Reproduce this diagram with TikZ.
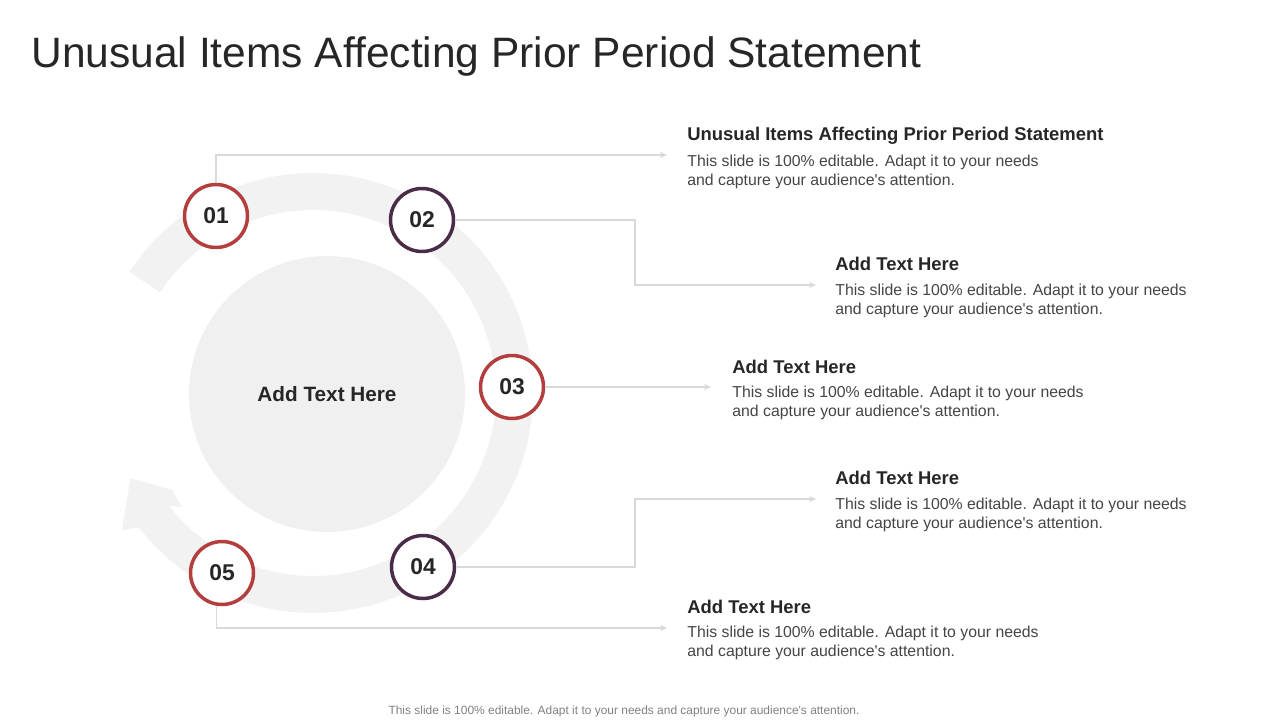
\documentclass[tikz,border=0pt]{standalone}
\usepackage{fontspec}
\setmainfont{Liberation Sans}
\usetikzlibrary{arrows.meta}
\definecolor{ringgray}{HTML}{F2F2F2}
\definecolor{discgray}{HTML}{F0F0F0}
\definecolor{numred}{HTML}{B43E3E}
\definecolor{numplum}{HTML}{4A2C48}
\definecolor{linegray}{HTML}{D9D9D9}
\definecolor{headtext}{HTML}{262626}
\definecolor{bodytext}{HTML}{454545}
\definecolor{foottext}{HTML}{808080}
\tikzset{
numring/.style={circle, draw=#1, line width=0.07cm, fill=white, minimum size=1.26cm, inner sep=0pt,
  font=\fontsize{13}{15}\selectfont\bfseries, text=headtext},
link/.style={draw=linegray, line width=0.6pt, -{Stealth[length=4pt,width=3.5pt]}},
itemhead/.style={anchor=base west, inner sep=0pt, font=\fontsize{10.5}{12}\selectfont\bfseries, text=headtext},
itembody/.style={anchor=base west, inner sep=0pt, align=left, font=\fontsize{9}{10.8}\selectfont, text=bodytext}
}
\begin{document}
\begin{tikzpicture}[x=0.02cm,y=-0.02cm]
\useasboundingbox (0,0) rectangle (1280,720);

\node[anchor=base west, inner sep=0pt, font=\fontsize{24.2}{28}\selectfont, text=headtext] (title) at (31,67) {Unusual Items Affecting Prior Period Statement};

\draw[ringgray, line width=0.74cm] (313,393) ++(-146.6:201.5) arc (-146.6:142:201.5);
\fill[ringgray, shift={(313,393)}] (142:183) -- (139:174) -- (145.5:171) -- (155:201.5) -- (144.2:235.6) -- (142.8:223) -- (142:220) -- cycle;

\node[circle, fill=discgray, minimum size=5.52cm, inner sep=0pt, font=\fontsize{11.8}{14}\selectfont\bfseries, text=headtext] (core) at (327,394) {Add Text Here};

\node[numring=numred] (c1) at (216,216) {01};
\node[numring=numplum] (c2) at (422,220) {02};
\node[numring=numred] (c3) at (512,387) {03};
\node[numring=numplum] (c4) at (423,567) {04};
\node[numring=numred] (c5) at (222,573) {05};

\coordinate (a1) at (667,155);
\coordinate (k2) at (635,285);
\coordinate (a2) at (816,285);
\coordinate (a3) at (711,387);
\coordinate (k4) at (635,499);
\coordinate (a4) at (816,499);
\coordinate (a5) at (667,628);

\draw[link] (c1.north) |- (a1);
\draw[link] (c2.east) -| (k2) -- (a2);
\draw[link] (c3.east) -- (a3);
\draw[link] (c4.east) -| (k4) -- (a4);
\draw[link] (c5.260) |- (a5);

\node[itemhead] (h1) at (687,140.5) {Unusual Items Affecting Prior Period Statement};
\node[itembody] (b1) at (687,185) {This slide is 100\% editable. Adapt it to your needs\\and capture your audience\textquotesingle s attention.};
\node[itemhead] (h2) at (835,270.5) {Add Text Here};
\node[itembody] (b2) at (835,314) {This slide is 100\% editable. Adapt it to your needs\\and capture your audience\textquotesingle s attention.};
\node[itemhead] (h3) at (732,373.5) {Add Text Here};
\node[itembody] (b3) at (732,416) {This slide is 100\% editable. Adapt it to your needs\\and capture your audience\textquotesingle s attention.};
\node[itemhead] (h4) at (835,484.5) {Add Text Here};
\node[itembody] (b4) at (835,528) {This slide is 100\% editable. Adapt it to your needs\\and capture your audience\textquotesingle s attention.};
\node[itemhead] (h5) at (687,613.5) {Add Text Here};
\node[itembody] (b5) at (687,656) {This slide is 100\% editable. Adapt it to your needs\\and capture your audience\textquotesingle s attention.};

\node[inner sep=0pt, font=\fontsize{6.8}{8}\selectfont, text=foottext] (foot) at (624,711) {This slide is 100\% editable. Adapt it to your needs and capture your audience\textquotesingle s attention.};
\end{tikzpicture}
\end{document}
